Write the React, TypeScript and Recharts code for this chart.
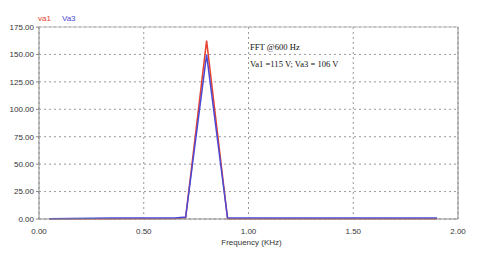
import { CartesianGrid, Line, LineChart, ReferenceLine, XAxis, YAxis } from "recharts";

const freq = [0.05, 0.35, 0.65, 0.7, 0.8, 0.9, 1.9];
const va1 = [0.3, 0.3, 0.4, 1.2, 162.6, 0.3, 0.3];
const va3 = [0.3, 0.8, 1.0, 1.8, 149.9, 0.8, 0.8];
const xTicks = [0, 0.5, 1, 1.5, 2];
const yTicks = [0, 25, 50, 75, 100, 125, 150, 175];

const data = freq.map((f, i) => ({ f, va1: va1[i], va3: va3[i] }));

const tickStyle = { fontSize: 8, fill: "#333", fontFamily: "Liberation Sans, Arial, sans-serif" };

export default function App() {
  return (
    <div style={{ position: "absolute", left: 0, top: 0, width: 479, height: 264, background: "#fff" }}>
      <LineChart width={479} height={264} data={data} margin={{ top: 27, right: 21, left: 0, bottom: 0 }}>
        <CartesianGrid stroke="#999" strokeDasharray="2 3" vertical horizontal />
        <XAxis
          dataKey="f"
          type="number"
          domain={[0, 2]}
          ticks={xTicks}
          tickFormatter={(v: number) => v.toFixed(2)}
          tick={tickStyle}
          tickLine={false}
          axisLine={{ stroke: "#888" }}
          tickMargin={3}
          height={45}
          label={{
            value: "Frequency (KHz)",
            position: "insideBottom",
            offset: 19,
            dx: 3,
            style: { fontSize: 8, fill: "#333", fontFamily: "Liberation Sans, Arial, sans-serif" },
          }}
        />
        <YAxis
          type="number"
          domain={[0, 175]}
          ticks={yTicks}
          tickFormatter={(v: number) => v.toFixed(2)}
          tick={tickStyle}
          tickSize={3}
          tickLine={{ stroke: "#888" }}
          axisLine={{ stroke: "#888" }}
          width={39}
        />
        <ReferenceLine x={2} stroke="#888" strokeDasharray="0" />
        <ReferenceLine y={175} stroke="#bbb" strokeDasharray="0" />
        <Line dataKey="va1" stroke="#e8402e" strokeWidth={1.5} dot={false} isAnimationActive={false} />
        <Line dataKey="va3" stroke="#4a4ad8" strokeWidth={1.5} dot={false} isAnimationActive={false} />
      </LineChart>
      <div style={{ position: "absolute", left: 38, top: 14, fontSize: 8, fontFamily: "Liberation Sans, Arial, sans-serif" }}>
        <span style={{ color: "#e8402e" }}>va1</span>
        <span style={{ color: "#4a4ad8", marginLeft: 11 }}>Va3</span>
      </div>
      <div style={{ position: "absolute", left: 250, top: 39, fontSize: 8.6, lineHeight: "16.5px", fontFamily: "Liberation Serif, Times New Roman, serif", color: "#111", whiteSpace: "nowrap" }}>
        <div>FFT @600 Hz</div>
        <div>Va1 =115 V; Va3 = 106 V</div>
      </div>
    </div>
  );
}
